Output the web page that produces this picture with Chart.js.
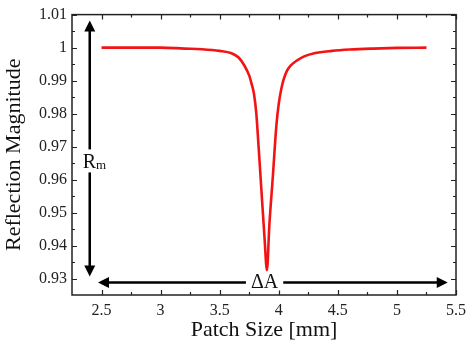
<!DOCTYPE html>
<html>
<head>
<meta charset="utf-8">
<script src="https://cdn.jsdelivr.net/npm/chart.js@4.4.1/dist/chart.umd.min.js"></script>
<style>
  html, body { margin: 0; padding: 0; background: #fff; }
  #wrap { width: 474px; height: 351px; }
</style>
</head>
<body>
<div id="wrap"><canvas id="chart"></canvas></div>
<script>
// Patch size sweep (mm) and reflection magnitude
const patchSize = [2.5, 2.8, 3.0, 3.2, 3.35, 3.5, 3.6, 3.66, 3.71, 3.75, 3.77, 3.79, 3.81, 3.82, 3.85, 3.88, 3.90,
                   3.92, 3.95, 3.98, 4.0, 4.02, 4.04, 4.07, 4.1, 4.15, 4.22, 4.3, 4.45, 4.6, 4.8, 5.0, 5.25];
const reflection = [1.0, 1.0, 1.0, 0.9997, 0.9995, 0.9990, 0.9983, 0.9970, 0.9945, 0.9915, 0.9890, 0.9860, 0.9800, 0.9750, 0.9585, 0.9420, 0.9325,
                    0.9460, 0.9610, 0.9765, 0.9830, 0.9872, 0.9902, 0.9930, 0.9945, 0.9960, 0.9974, 0.9983, 0.9990, 0.9994, 0.9997, 0.9999, 1.0];

const xTicks = [2.5, 3, 3.5, 4, 4.5, 5, 5.5];
const yTicks = [0.93, 0.94, 0.95, 0.96, 0.97, 0.98, 0.99, 1.0, 1.01];

// annotation arrows, in data units
const rmArrow = { x: 2.40, y0: 1.0082, y1: 0.9306, labelY: 0.9655 };
const dAArrow = { y: 0.9288, x0: 2.47, x1: 5.43, labelX: 3.88 };

const serif = 'Liberation Serif';

function arrowHead(ctx, x, y, dir) {
    // dir: 'up','down','left','right'
    const L = 11, W = 5.5;
    ctx.beginPath();
    if (dir === 'up') { ctx.moveTo(x, y); ctx.lineTo(x - W, y + L); ctx.lineTo(x + W, y + L); }
    if (dir === 'down') { ctx.moveTo(x, y); ctx.lineTo(x - W, y - L); ctx.lineTo(x + W, y - L); }
    if (dir === 'left') { ctx.moveTo(x, y); ctx.lineTo(x + L, y - W); ctx.lineTo(x + L, y + W); }
    if (dir === 'right') { ctx.moveTo(x, y); ctx.lineTo(x - L, y - W); ctx.lineTo(x - L, y + W); }
    ctx.closePath();
    ctx.fill();
}

const framePlugin = {
    id: 'frame',
    afterDraw(chart) {
        const ctx = chart.ctx;
        const area = chart.chartArea;
        const xs = chart.scales.x, ys = chart.scales.y;
        ctx.save();
        ctx.strokeStyle = '#222';
        ctx.fillStyle = '#111';

        // inward ticks on all four sides
        ctx.lineWidth = 1.2;
        ctx.beginPath();
        for (let v = 2.5; v <= 5.5001; v += 0.25) {
            const px = Math.round(xs.getPixelForValue(v)) + 0.5;
            const len = Math.abs((v * 2) % 1) < 1e-6 ? 5 : 3;
            ctx.moveTo(px, area.bottom); ctx.lineTo(px, area.bottom - len);
            ctx.moveTo(px, area.top); ctx.lineTo(px, area.top + len);
        }
        for (let v = 0.93; v <= 1.0101; v += 0.005) {
            const py = Math.round(ys.getPixelForValue(v)) + 0.5;
            const major = Math.abs(Math.round(v * 200) % 2) === 0;
            const len = major ? 5 : 3;
            ctx.moveTo(area.left, py); ctx.lineTo(area.left + len, py);
            ctx.moveTo(area.right, py); ctx.lineTo(area.right - len, py);
        }
        ctx.stroke();

        // frame
        ctx.lineWidth = 1.5;
        ctx.strokeRect(area.left, area.top, area.right - area.left, area.bottom - area.top);

        // vertical Rm arrow
        const ax = xs.getPixelForValue(rmArrow.x);
        const ay0 = ys.getPixelForValue(rmArrow.y0);
        const ay1 = ys.getPixelForValue(rmArrow.y1);
        ctx.lineWidth = 2.5;
        ctx.strokeStyle = '#000';
        ctx.fillStyle = '#000';
        ctx.beginPath();
        ctx.moveTo(ax, ay0 + 8); ctx.lineTo(ax, ay1 - 8);
        ctx.stroke();
        arrowHead(ctx, ax, ay0, 'up');
        arrowHead(ctx, ax, ay1, 'down');

        // horizontal dA arrow
        const hy = ys.getPixelForValue(dAArrow.y);
        const hx0 = xs.getPixelForValue(dAArrow.x0);
        const hx1 = xs.getPixelForValue(dAArrow.x1);
        ctx.beginPath();
        ctx.moveTo(hx0 + 8, hy); ctx.lineTo(hx1 - 8, hy);
        ctx.stroke();
        arrowHead(ctx, hx0, hy, 'left');
        arrowHead(ctx, hx1, hy, 'right');

        // Rm label
        const ly = ys.getPixelForValue(rmArrow.labelY);
        ctx.fillStyle = '#fff';
        ctx.fillRect(ax - 9, ly - 12, 26, 23);
        ctx.fillStyle = '#111';
        ctx.textBaseline = 'alphabetic';
        ctx.textAlign = 'left';
        ctx.font = '20px "' + serif + '"';
        ctx.fillText('R', ax - 7, ly + 7);
        const rw = ctx.measureText('R').width;
        ctx.font = '13px "' + serif + '"';
        ctx.fillText('m', ax - 7 + rw, ly + 8);

        // dA label
        const lx = xs.getPixelForValue(dAArrow.labelX);
        ctx.font = '20px "' + serif + '"';
        const tw = ctx.measureText('\u0394A').width;
        ctx.fillStyle = '#fff';
        ctx.fillRect(lx - tw / 2 - 5, hy - 6, tw + 10, 14);
        ctx.fillStyle = '#111';
        ctx.textAlign = 'center';
        ctx.fillText('\u0394A', lx, hy + 6);
        ctx.restore();
    }
};

const ctx = document.getElementById('chart').getContext('2d');
new Chart(ctx, {
    type: 'line',
    data: {
        datasets: [{
            data: patchSize.map((x, i) => ({ x: x, y: reflection[i] })),
            borderColor: '#f21414',
            borderWidth: 2.6,
            pointRadius: 0,
            cubicInterpolationMode: 'monotone',
            fill: false
        }]
    },
    options: {
        responsive: true,
        maintainAspectRatio: false,
        animation: false,
        layout: { padding: { top: 13, right: 18, left: 0, bottom: 0 } },
        plugins: { legend: { display: false }, tooltip: { enabled: false } },
        scales: {
            x: {
                type: 'linear',
                min: 2.25,
                max: 5.5,
                afterBuildTicks: s => { s.ticks = xTicks.map(v => ({ value: v })); },
                afterFit: s => { s.height = 56; },
                grid: { display: false, drawTicks: false },
                border: { display: false },
                ticks: {
                    padding: 6,
                    autoSkip: false,
                    maxRotation: 0,
                    color: '#222',
                    font: { family: serif, size: 16 },
                    callback: v => String(v)
                },
                title: {
                    display: true,
                    text: 'Patch Size [mm]',
                    color: '#111',
                    font: { family: serif, size: 22 },
                    padding: { top: 0, bottom: 8 }
                }
            },
            y: {
                min: 0.925,
                max: 1.01,
                afterBuildTicks: s => { s.ticks = yTicks.map(v => ({ value: v })); },
                afterFit: s => { s.width = 72; },
                grid: { display: false, drawTicks: false },
                border: { display: false },
                ticks: {
                    padding: 5,
                    autoSkip: false,
                    color: '#222',
                    font: { family: serif, size: 16 },
                    callback: v => String(Number(v.toFixed(3)))
                },
                title: {
                    display: true,
                    text: 'Reflection Magnitude',
                    color: '#111',
                    font: { family: serif, size: 22 },
                    padding: { top: 1, bottom: 0 }
                }
            }
        }
    },
    plugins: [framePlugin]
});
</script>
</body>
</html>
